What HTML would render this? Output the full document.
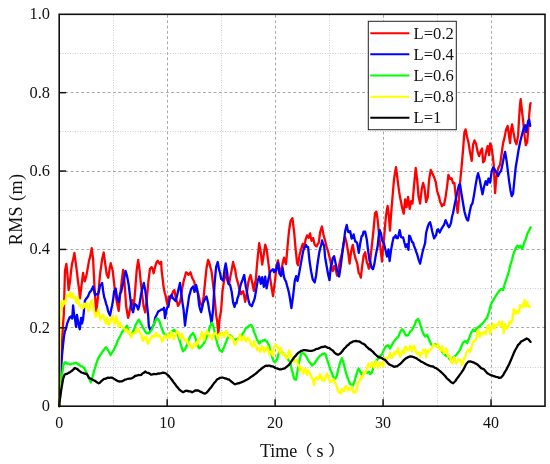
<!DOCTYPE html>
<html lang="en"><head><meta charset="utf-8"><title>RMS vs Time</title>
<style>
html,body{margin:0;padding:0;background:#fff;}
body{width:550px;height:464px;overflow:hidden;}
svg text{font-family:"Liberation Serif","Noto Serif CJK SC",serif;}
</style></head><body>
<svg width="550" height="464" viewBox="0 0 550 464" style="display:block">
<rect x="0" y="0" width="550" height="464" fill="#ffffff"/>
<g fill="none" stroke="#cfcfcf" stroke-width="1" stroke-dasharray="1 1.5">
<line x1="113.50" y1="15.00" x2="113.50" y2="406.00"/>
<line x1="221.50" y1="15.00" x2="221.50" y2="406.00"/>
<line x1="329.50" y1="15.00" x2="329.50" y2="406.00"/>
<line x1="437.50" y1="15.00" x2="437.50" y2="406.00"/>
<line x1="60.00" y1="367.50" x2="545.00" y2="367.50"/>
<line x1="60.00" y1="288.50" x2="545.00" y2="288.50"/>
<line x1="60.00" y1="210.50" x2="545.00" y2="210.50"/>
<line x1="60.00" y1="131.50" x2="545.00" y2="131.50"/>
<line x1="60.00" y1="53.50" x2="545.00" y2="53.50"/>
</g>
<g fill="none" stroke="#a9a9a9" stroke-width="1" stroke-dasharray="2.8 2.5">
<line x1="167.50" y1="15.00" x2="167.50" y2="406.00"/>
<line x1="275.50" y1="15.00" x2="275.50" y2="406.00"/>
<line x1="383.50" y1="15.00" x2="383.50" y2="406.00"/>
<line x1="491.50" y1="15.00" x2="491.50" y2="406.00"/>
<line x1="60.00" y1="327.50" x2="545.00" y2="327.50"/>
<line x1="60.00" y1="249.50" x2="545.00" y2="249.50"/>
<line x1="60.00" y1="171.50" x2="545.00" y2="171.50"/>
<line x1="60.00" y1="92.50" x2="545.00" y2="92.50"/>
</g>
<g fill="none" stroke-width="2.3" stroke-linejoin="round" stroke-linecap="round">
<path stroke="#ff0000" d="M59.2 406.2 L60.0 390.3 L61.0 365.5 L62.2 339.4 L63.0 325.0 L63.8 314.3 L65.0 270.8 L66.4 263.8 L67.6 276.1 L68.6 290.1 L70.0 281.5 L71.0 271.9 L72.0 263.8 L73.2 259.3 L74.4 253.0 L76.0 264.8 L77.0 272.4 L78.0 281.5 L79.0 288.5 L80.0 298.3 L81.6 284.7 L83.1 273.0 L84.7 281.4 L86.1 277.0 L87.1 271.7 L88.1 266.1 L89.1 260.1 L90.1 257.1 L91.7 248.1 L93.1 259.2 L94.5 286.9 L96.1 311.2 L97.1 305.2 L98.1 296.0 L99.1 285.2 L100.1 273.7 L101.1 267.0 L102.1 259.3 L103.7 252.5 L105.1 262.9 L106.7 274.4 L108.3 277.8 L109.5 269.4 L110.7 263.2 L111.7 267.0 L112.7 270.7 L113.7 279.7 L114.7 288.3 L115.7 295.7 L116.7 301.2 L117.7 306.1 L118.7 310.9 L120.1 295.4 L121.7 281.1 L123.1 270.0 L124.5 281.9 L126.1 305.8 L127.1 312.0 L128.1 317.9 L129.1 314.3 L130.1 307.9 L131.1 303.5 L132.1 300.2 L133.7 307.7 L135.1 291.3 L136.7 270.1 L138.2 260.0 L139.6 270.2 L140.6 280.7 L141.6 289.4 L142.6 298.4 L143.6 306.3 L145.2 312.4 L146.8 299.4 L148.4 281.3 L150.0 268.7 L151.6 267.1 L152.6 269.2 L153.6 273.3 L154.6 269.1 L155.6 265.1 L156.7 262.0 L157.8 260.8 L159.6 263.7 L161.2 261.8 L161.6 270.5 L162.6 278.5 L163.6 287.1 L164.6 292.2 L165.6 295.9 L166.6 301.3 L167.6 305.2 L169.0 296.3 L170.0 298.0 L171.0 298.1 L172.0 294.8 L173.0 291.5 L174.4 290.0 L176.0 299.3 L177.0 301.6 L178.0 305.9 L179.0 304.3 L180.0 302.1 L181.0 296.9 L182.0 289.0 L183.0 284.5 L184.0 279.6 L185.0 276.4 L186.0 272.3 L187.2 273.0 L188.5 274.7 L189.5 274.0 L190.5 272.2 L192.1 277.7 L193.1 279.5 L194.1 281.5 L195.1 285.7 L196.1 287.2 L197.1 291.2 L198.1 293.0 L199.1 297.4 L200.1 302.9 L201.1 304.3 L202.1 306.1 L203.7 296.4 L205.1 281.9 L206.5 268.3 L208.1 259.9 L209.1 262.1 L210.1 266.1 L211.7 272.5 L213.1 284.7 L214.5 296.9 L216.1 314.6 L217.3 322.1 L218.3 334.9 L219.5 319.2 L221.1 310.5 L222.5 291.0 L224.1 280.3 L225.7 272.5 L227.1 279.9 L228.1 282.7 L229.1 284.1 L230.1 277.7 L231.1 273.1 L232.1 267.6 L233.1 261.9 L234.1 266.4 L235.1 269.2 L236.1 276.0 L237.1 280.5 L238.1 283.2 L239.1 288.2 L240.1 290.7 L241.1 294.1 L242.1 292.4 L243.2 291.3 L244.2 296.4 L245.2 301.8 L246.2 296.6 L247.2 290.2 L248.2 283.0 L249.2 278.6 L250.6 275.0 L252.2 282.8 L253.8 290.8 L254.8 283.9 L255.8 280.0 L256.8 267.0 L257.8 256.7 L259.2 243.2 L260.8 252.5 L262.2 264.5 L263.8 254.5 L265.2 244.6 L266.6 249.0 L268.0 259.8 L269.0 267.7 L270.0 277.1 L271.6 287.7 L273.0 296.0 L274.0 288.2 L275.0 281.2 L276.6 265.2 L278.0 260.4 L279.4 268.1 L281.0 274.7 L282.6 263.2 L284.0 257.7 L285.0 261.6 L286.0 264.2 L287.4 248.2 L289.0 231.0 L290.6 220.8 L292.4 218.2 L294.1 231.7 L295.5 247.7 L297.1 263.3 L298.1 265.2 L299.5 255.1 L301.1 249.1 L302.7 243.8 L304.1 248.7 L305.5 239.9 L307.1 235.4 L308.7 237.9 L310.1 233.4 L311.5 240.9 L313.1 238.1 L314.7 244.8 L315.7 245.8 L316.7 246.4 L317.7 244.0 L318.7 242.9 L320.3 231.5 L321.9 226.5 L323.5 234.8 L325.1 240.6 L326.7 247.0 L327.7 250.0 L328.7 253.8 L329.7 258.1 L330.7 262.4 L331.7 268.2 L332.7 271.1 L334.1 266.1 L335.5 269.1 L337.1 275.7 L338.7 267.1 L340.1 260.8 L341.1 256.4 L342.1 252.7 L343.5 243.5 L345.1 236.9 L346.7 243.6 L348.2 252.5 L349.6 263.5 L351.2 251.1 L352.8 244.8 L354.2 253.4 L355.6 258.9 L357.2 263.2 L358.8 273.3 L359.8 274.0 L360.8 277.7 L362.2 265.7 L363.6 255.8 L365.2 252.2 L366.8 262.2 L367.8 264.6 L368.8 268.7 L370.2 261.2 L371.6 247.6 L372.6 238.5 L373.6 229.2 L375.0 213.2 L376.4 211.6 L377.6 219.4 L379.0 233.8 L380.4 247.4 L382.0 261.5 L383.2 246.4 L384.0 239.2 L385.0 226.7 L386.0 215.5 L387.6 205.9 L389.0 217.3 L390.0 230.6 L391.0 215.4 L392.4 198.3 L394.0 179.5 L395.0 172.8 L396.0 167.1 L397.0 175.0 L398.1 183.9 L399.1 191.4 L400.1 197.6 L401.1 202.3 L402.1 207.8 L403.7 213.6 L405.1 199.3 L406.5 207.2 L408.1 197.0 L409.7 208.9 L411.1 201.1 L412.5 203.6 L414.1 184.9 L415.7 168.0 L417.1 178.9 L418.5 196.3 L420.1 203.6 L421.7 189.4 L423.1 182.9 L424.5 188.2 L426.1 202.1 L427.7 197.6 L429.1 179.9 L430.7 170.0 L432.5 173.7 L434.1 177.2 L435.7 181.8 L437.1 190.8 L438.1 194.2 L439.1 197.0 L440.0 201.4 L441.0 203.9 L442.0 206.2 L443.0 204.5 L444.0 204.8 L445.6 196.9 L447.0 187.1 L448.4 175.0 L450.0 178.9 L451.6 178.3 L453.0 183.1 L454.4 183.0 L456.0 198.7 L457.6 212.8 L459.0 199.4 L460.0 183.0 L461.6 166.8 L463.0 150.3 L464.4 132.4 L465.6 129.4 L467.0 136.8 L468.5 142.7 L470.1 152.6 L471.7 160.8 L473.1 144.6 L474.5 140.4 L476.1 144.0 L477.7 152.1 L479.1 156.1 L480.7 151.1 L482.1 148.5 L483.1 162.4 L484.5 160.6 L486.1 152.1 L487.7 146.0 L489.1 155.1 L490.1 143.5 L491.3 145.5 L492.5 154.3 L493.7 164.2 L495.1 193.1 L496.1 180.2 L497.1 172.8 L498.5 167.6 L500.1 164.7 L501.7 153.2 L503.1 143.1 L504.5 137.9 L506.1 129.4 L507.7 126.0 L509.1 136.7 L510.1 143.2 L511.1 129.4 L512.1 124.3 L513.7 133.6 L515.1 141.1 L516.5 144.3 L518.1 135.9 L519.1 117.8 L520.1 104.0 L520.7 99.1 L521.7 108.4 L523.2 121.7 L524.6 136.1 L525.8 145.2 L527.2 142.1 L528.2 130.2 L529.2 114.8 L530.2 104.1 L530.6 103.1"/>
<path stroke="#0000ff" d="M59.2 406.2 L60.0 384.2 L61.0 369.2 L62.0 355.3 L63.0 345.3 L64.0 336.2 L65.0 330.9 L65.8 329.3 L67.1 323.7 L68.4 320.3 L69.6 317.5 L70.9 316.5 L72.2 318.5 L73.1 305.4 L74.1 314.8 L75.1 319.6 L76.0 326.8 L76.9 315.0 L77.9 320.4 L78.9 326.0 L79.8 329.2 L81.1 318.0 L82.0 323.5 L83.0 319.7 L84.0 309.8 L84.9 300.8 L86.2 298.7 L88.1 296.2 L89.6 292.4 L91.1 290.8 L92.1 288.9 L93.1 286.5 L94.1 290.7 L95.1 295.1 L96.6 294.1 L98.1 294.2 L99.1 290.4 L100.1 285.3 L101.1 284.8 L102.1 283.0 L103.1 290.7 L104.1 296.9 L105.1 299.8 L106.1 303.8 L107.1 306.6 L108.1 311.2 L109.1 313.6 L110.1 315.5 L111.1 309.9 L112.1 305.4 L113.1 299.8 L114.1 291.4 L115.7 288.6 L117.1 297.9 L118.7 302.0 L120.1 293.4 L121.1 292.1 L122.1 287.7 L123.1 283.5 L124.1 278.7 L125.5 270.8 L127.1 276.1 L128.7 285.0 L130.1 296.7 L131.5 308.2 L133.1 312.3 L134.7 304.0 L135.7 304.5 L136.7 305.5 L138.2 309.5 L139.2 306.0 L140.2 299.6 L141.2 293.5 L142.2 289.2 L143.8 282.9 L145.2 289.9 L146.8 302.3 L148.2 316.0 L148.8 325.8 L150.2 330.4 L151.7 328.5 L153.2 325.8 L154.2 323.8 L155.2 317.8 L156.7 314.8 L158.2 311.5 L160.0 310.4 L161.0 309.7 L162.0 309.3 L163.0 309.6 L164.0 307.7 L165.0 318.2 L166.4 310.5 L167.4 307.1 L168.4 306.8 L170.0 297.4 L171.6 294.8 L172.6 297.6 L173.6 299.0 L174.6 299.7 L175.6 301.1 L176.6 297.6 L177.6 293.3 L178.8 288.1 L180.0 282.9 L181.6 295.9 L182.6 303.6 L183.6 309.7 L185.0 325.7 L186.0 317.2 L187.0 310.3 L188.1 303.2 L189.1 296.2 L190.1 292.9 L191.1 289.0 L192.1 287.8 L193.1 286.4 L194.5 291.9 L196.1 284.8 L197.7 292.0 L199.1 305.0 L200.1 309.2 L201.1 312.2 L202.1 308.0 L203.1 303.1 L204.1 300.7 L205.1 298.9 L206.5 296.4 L208.1 303.0 L209.1 309.7 L210.1 314.4 L211.7 324.0 L213.1 309.0 L214.5 284.9 L216.1 267.0 L217.7 262.0 L219.1 269.9 L220.1 273.0 L221.1 278.8 L222.1 279.6 L223.1 280.7 L224.5 269.8 L225.7 263.4 L227.1 272.0 L228.5 283.8 L230.1 285.0 L231.7 291.8 L233.1 302.3 L234.5 307.0 L235.5 303.0 L236.5 303.3 L237.5 298.2 L238.5 295.8 L239.5 290.1 L240.5 285.4 L241.5 282.3 L242.6 279.5 L244.2 275.0 L245.8 286.4 L246.8 291.1 L247.8 296.7 L248.8 301.7 L249.8 304.5 L250.8 305.3 L251.8 306.3 L252.8 303.4 L253.8 301.0 L254.8 297.9 L255.8 292.1 L256.8 285.8 L257.8 280.4 L259.2 276.5 L260.8 283.8 L262.2 277.2 L263.8 286.9 L265.2 276.6 L266.6 288.3 L268.0 281.0 L269.0 276.8 L270.0 272.5 L271.0 270.8 L272.0 270.0 L273.0 269.3 L274.0 272.2 L275.0 269.8 L276.0 271.0 L277.0 266.1 L278.0 262.6 L279.4 273.3 L281.0 276.0 L282.6 267.7 L284.0 277.2 L285.0 279.7 L286.0 281.6 L287.0 285.5 L288.0 289.0 L289.0 293.0 L290.0 298.8 L291.4 308.1 L293.1 296.0 L294.7 281.3 L296.1 276.1 L297.5 281.0 L299.1 273.6 L300.7 264.6 L302.1 256.7 L303.1 251.5 L304.1 248.0 L305.1 246.9 L306.1 245.0 L307.1 246.9 L308.1 247.1 L309.5 261.0 L311.1 271.3 L312.7 279.3 L313.7 280.9 L314.7 282.4 L316.1 275.5 L317.1 267.2 L318.1 260.0 L319.1 253.4 L320.1 248.4 L321.1 245.6 L322.1 240.5 L323.1 243.8 L324.1 245.4 L325.1 257.2 L326.7 266.5 L328.1 274.4 L329.5 280.2 L330.7 267.5 L331.7 264.2 L332.7 258.1 L334.1 256.2 L335.5 262.8 L337.1 271.1 L338.1 272.7 L339.1 276.5 L340.7 266.4 L342.1 255.1 L343.5 244.9 L345.1 231.6 L346.7 224.9 L348.2 231.9 L349.2 232.3 L350.2 231.1 L351.6 238.5 L352.6 237.9 L353.6 234.3 L355.2 241.6 L356.2 241.6 L357.2 243.4 L358.8 252.9 L360.2 243.5 L361.6 236.2 L362.6 235.6 L363.6 231.6 L365.2 231.7 L366.8 239.5 L368.2 251.2 L369.6 261.1 L370.0 260.4 L371.6 267.9 L373.0 269.3 L374.4 263.9 L376.0 253.9 L377.6 246.6 L378.6 236.9 L379.6 230.0 L381.0 233.7 L382.4 241.2 L384.0 243.7 L385.6 250.5 L387.0 256.5 L388.4 249.4 L389.6 261.2 L391.0 250.5 L392.4 242.7 L393.6 237.3 L394.6 237.4 L395.6 235.3 L396.6 238.1 L397.7 238.2 L398.7 234.6 L399.7 230.1 L401.1 237.2 L402.1 237.5 L403.1 237.3 L404.4 242.5 L405.7 247.1 L407.1 244.2 L408.5 249.8 L409.1 235.7 L410.1 236.5 L411.1 239.3 L412.1 242.1 L413.1 242.6 L414.1 246.1 L415.1 248.5 L416.1 251.7 L417.1 254.1 L418.5 259.3 L420.1 263.7 L421.7 255.9 L423.1 249.8 L424.1 246.5 L425.1 243.1 L426.1 233.0 L427.1 229.1 L428.1 225.6 L429.1 223.3 L430.1 222.2 L431.1 226.0 L432.1 231.0 L433.1 234.8 L434.1 238.4 L435.1 236.7 L436.1 235.1 L437.1 230.2 L438.1 229.3 L439.7 232.5 L440.9 230.0 L442.0 227.9 L443.0 226.3 L444.0 225.0 L445.6 220.2 L447.0 223.2 L448.0 225.9 L449.0 227.2 L450.0 225.6 L451.0 222.9 L452.0 216.8 L453.0 213.3 L454.0 208.1 L455.0 202.9 L456.0 198.6 L457.0 193.2 L458.0 189.0 L459.0 185.1 L460.0 184.2 L461.6 194.5 L463.0 203.0 L464.4 211.3 L466.0 217.1 L467.0 219.6 L468.1 220.5 L469.7 211.9 L471.1 205.6 L472.5 203.2 L474.1 194.6 L475.7 184.5 L477.1 176.7 L478.1 173.2 L479.7 179.5 L481.1 187.2 L482.5 194.3 L484.1 186.5 L485.7 181.2 L487.1 184.9 L488.5 178.5 L490.1 182.7 L491.7 171.5 L493.1 167.5 L494.5 169.1 L496.1 172.1 L497.1 173.7 L498.1 176.1 L499.7 172.4 L501.1 170.7 L502.5 164.2 L504.1 155.9 L505.1 151.9 L506.5 160.2 L507.7 169.7 L509.1 181.2 L510.5 190.4 L511.7 196.1 L513.1 193.4 L514.5 179.2 L515.7 167.3 L517.1 159.2 L518.5 150.2 L519.5 145.2 L520.5 140.5 L522.1 134.2 L523.8 128.0 L525.2 125.2 L526.2 132.1 L527.2 126.3 L528.2 121.0 L529.2 119.7 L530.2 125.9"/>
<path stroke="#00ff00" d="M59.2 406.2 L60.6 391.2 L62.0 375.4 L63.4 365.3 L64.6 362.5 L65.8 362.4 L67.0 363.6 L68.0 363.5 L69.0 364.0 L70.0 364.3 L71.0 364.4 L72.0 363.6 L73.0 363.6 L74.0 363.5 L75.0 363.0 L76.0 362.7 L77.0 363.2 L78.0 364.5 L79.0 364.3 L80.0 365.6 L81.0 366.0 L82.0 366.3 L83.1 367.6 L84.1 367.6 L85.1 369.8 L86.1 371.9 L87.1 373.8 L88.1 375.8 L89.4 378.7 L90.7 382.5 L92.1 378.7 L93.1 374.8 L94.1 370.7 L95.1 368.0 L96.1 364.1 L97.1 361.4 L98.1 358.6 L99.1 356.7 L100.1 355.3 L101.1 354.0 L102.1 352.2 L103.1 350.8 L104.1 349.5 L105.1 348.1 L106.1 347.3 L107.1 348.9 L108.1 350.4 L109.4 352.7 L110.7 355.1 L111.9 352.7 L113.1 350.9 L114.1 349.4 L115.1 347.0 L116.1 344.9 L117.1 342.1 L118.1 340.1 L119.1 337.8 L120.1 336.3 L121.1 334.3 L122.1 331.9 L123.1 330.9 L124.1 328.6 L125.1 328.5 L126.1 326.7 L127.1 325.6 L128.1 329.9 L129.1 333.1 L130.1 334.0 L131.1 336.0 L132.1 334.0 L133.1 331.0 L134.1 329.3 L135.1 326.3 L136.1 324.0 L137.4 321.9 L138.8 319.6 L140.0 321.9 L141.2 324.0 L142.2 326.1 L143.2 328.1 L144.2 329.4 L145.2 331.5 L146.2 332.8 L147.2 333.4 L148.2 332.6 L149.2 333.3 L150.2 331.3 L151.2 330.4 L152.2 328.9 L153.2 326.0 L154.2 323.2 L155.2 321.6 L156.2 319.2 L157.2 318.4 L158.2 319.7 L159.2 320.6 L160.0 323.2 L161.0 326.3 L162.0 328.9 L163.0 331.9 L164.0 333.7 L165.0 334.5 L166.0 334.8 L167.0 335.0 L168.0 334.2 L169.0 333.8 L170.0 333.5 L171.0 331.9 L172.0 331.3 L173.0 330.9 L174.0 329.7 L175.0 331.0 L176.0 331.6 L177.0 332.0 L178.0 335.3 L179.0 338.4 L180.0 341.1 L181.0 345.5 L182.0 348.1 L183.0 351.3 L184.0 350.2 L185.0 349.5 L186.0 347.3 L187.0 344.8 L188.1 341.7 L189.1 338.9 L190.1 336.8 L191.1 334.8 L192.1 334.1 L193.1 333.0 L194.1 334.9 L195.1 337.3 L196.1 340.2 L197.1 344.0 L198.1 346.0 L199.1 348.2 L200.1 347.8 L201.1 346.8 L202.1 345.6 L203.1 344.5 L204.1 342.6 L205.1 341.0 L206.1 338.4 L207.1 335.4 L208.1 333.3 L209.1 329.4 L210.1 325.9 L211.1 324.6 L212.1 322.6 L213.1 325.8 L214.1 329.5 L215.7 336.7 L216.7 340.9 L217.7 345.3 L218.7 347.5 L219.7 350.2 L220.9 351.1 L222.1 351.8 L223.1 349.2 L224.1 346.9 L225.1 344.1 L226.1 342.3 L227.1 339.2 L228.1 337.0 L229.1 335.7 L230.1 335.3 L231.1 336.0 L232.1 336.7 L233.1 338.6 L234.1 339.6 L235.1 339.6 L236.1 339.2 L237.1 339.3 L238.1 338.5 L239.1 337.4 L240.1 336.9 L241.1 335.7 L242.1 334.7 L243.2 332.9 L244.2 331.6 L245.2 329.3 L246.2 327.6 L247.2 327.6 L248.2 326.6 L249.2 325.6 L250.2 325.2 L251.2 324.9 L252.2 326.6 L253.2 328.9 L254.2 332.5 L255.2 334.6 L256.2 337.4 L257.2 339.9 L258.2 341.2 L259.2 343.5 L260.2 342.2 L261.2 341.4 L262.2 341.0 L263.2 340.3 L264.2 340.4 L265.0 339.7 L266.0 341.0 L267.0 341.6 L268.0 343.9 L269.0 345.0 L270.0 349.1 L271.0 352.7 L272.0 356.0 L273.0 359.7 L274.0 361.5 L275.0 362.5 L276.0 360.7 L277.0 359.4 L278.0 355.8 L279.0 352.7 L280.0 352.3 L281.0 350.8 L282.5 352.6 L284.0 354.0 L285.5 356.0 L287.0 357.5 L288.5 360.2 L290.0 361.8 L291.0 366.4 L292.0 370.5 L293.0 373.9 L294.0 378.4 L295.0 379.5 L296.0 379.7 L297.4 371.8 L299.0 362.4 L300.0 358.4 L301.0 353.7 L302.0 353.2 L303.0 353.4 L304.0 353.6 L305.0 354.7 L306.0 356.2 L307.0 357.8 L308.0 360.0 L309.0 361.6 L310.5 363.2 L312.0 365.5 L313.5 364.0 L315.0 363.0 L316.0 360.8 L317.0 359.5 L318.0 358.1 L319.0 357.0 L320.0 355.6 L321.0 355.2 L322.2 354.0 L323.4 353.8 L324.4 353.3 L325.4 354.1 L327.0 359.3 L328.0 362.1 L329.0 365.5 L330.0 368.5 L331.0 371.2 L332.0 373.1 L333.0 376.4 L334.0 377.5 L335.0 378.9 L336.6 376.8 L338.0 370.5 L339.0 366.7 L340.0 362.7 L341.0 360.2 L342.0 358.3 L343.0 361.1 L344.0 364.8 L345.0 369.1 L346.0 372.6 L347.0 376.3 L348.0 378.5 L349.0 381.5 L350.0 383.7 L351.3 384.6 L352.6 386.2 L353.6 383.5 L354.6 381.0 L355.6 377.3 L356.6 373.9 L357.6 371.1 L358.6 368.5 L360.0 371.0 L361.0 373.2 L362.0 374.8 L363.0 373.5 L364.0 372.0 L365.0 372.4 L366.0 372.7 L367.5 372.6 L369.0 371.8 L370.0 374.0 L371.0 373.4 L372.0 372.2 L373.0 368.9 L374.0 365.4 L375.0 363.2 L376.0 360.8 L377.0 360.1 L378.0 358.4 L379.0 357.4 L380.0 355.7 L381.0 355.2 L382.0 354.2 L383.0 351.9 L384.0 349.3 L385.0 347.9 L386.0 346.1 L387.0 346.0 L388.0 345.3 L389.0 346.2 L390.0 348.5 L391.0 346.3 L392.0 344.8 L393.0 342.9 L394.0 341.4 L395.0 340.2 L396.0 339.1 L397.0 337.8 L398.1 337.1 L399.1 334.9 L400.1 332.2 L401.1 330.5 L402.1 329.3 L403.1 330.3 L404.1 331.6 L405.1 334.3 L406.1 335.6 L407.1 335.1 L408.1 335.3 L409.1 333.5 L410.1 331.6 L411.1 330.9 L412.1 329.7 L413.1 328.0 L414.1 325.9 L415.1 323.9 L416.1 320.5 L417.1 319.9 L418.1 318.8 L419.7 322.7 L421.1 327.3 L422.1 330.5 L423.1 333.1 L424.1 334.8 L425.1 336.4 L426.1 336.0 L427.1 334.9 L428.1 337.3 L429.1 339.7 L430.1 341.9 L431.1 344.3 L432.1 345.0 L433.1 345.1 L434.1 344.7 L435.1 344.2 L436.1 344.6 L437.1 345.6 L438.1 346.1 L439.1 347.4 L440.1 348.9 L441.1 349.8 L442.1 351.9 L443.1 352.7 L444.1 354.0 L445.1 355.0 L446.1 356.1 L447.1 356.1 L448.1 356.6 L449.1 358.6 L450.1 359.5 L451.1 360.5 L452.1 359.6 L453.2 357.6 L454.2 356.7 L455.2 355.8 L456.2 355.1 L457.2 353.8 L458.2 352.2 L459.2 351.2 L460.2 349.5 L461.2 347.0 L462.2 344.3 L463.2 342.4 L464.2 341.8 L465.2 341.1 L466.2 341.6 L467.2 343.2 L468.2 340.1 L469.2 338.2 L470.2 335.4 L471.2 332.4 L472.2 331.2 L473.2 329.5 L474.2 330.8 L475.2 330.8 L476.2 329.1 L477.2 328.2 L478.2 327.1 L479.2 326.3 L479.7 326.3 L480.9 324.5 L482.1 324.1 L483.1 322.7 L484.1 321.9 L485.1 320.1 L486.1 318.8 L487.1 317.9 L488.1 314.6 L489.1 311.6 L490.1 307.3 L491.1 304.1 L492.1 301.8 L493.1 300.4 L494.1 298.6 L495.1 297.0 L496.1 295.3 L497.1 293.8 L498.1 292.6 L499.1 291.1 L500.1 289.9 L501.1 289.0 L502.1 289.6 L503.1 290.1 L504.5 284.8 L506.1 280.0 L507.1 276.8 L508.1 274.0 L509.1 270.3 L510.1 265.7 L511.1 262.5 L512.1 259.5 L513.1 255.1 L514.1 252.3 L515.7 248.3 L516.7 246.6 L517.7 245.7 L519.1 247.5 L520.5 245.7 L522.1 249.0 L523.8 244.1 L524.8 241.1 L525.8 239.4 L527.2 234.1 L528.2 232.0 L529.2 230.4 L530.6 227.3"/>
<path stroke="#ffff00" d="M59.2 406.2 L59.6 355.8 L59.8 312.6 L60.7 309.2 L61.4 301.3 L62.6 306.5 L63.9 301.1 L65.2 304.1 L66.5 295.6 L67.7 294.7 L69.0 296.6 L70.3 292.4 L71.5 297.7 L72.8 293.4 L74.1 298.7 L75.4 297.1 L76.6 303.0 L77.9 297.5 L79.2 305.7 L80.5 304.9 L81.7 308.5 L83.0 308.1 L84.3 303.7 L85.5 307.0 L86.8 302.3 L88.1 311.4 L89.4 309.5 L90.6 302.0 L91.9 300.1 L93.2 308.3 L94.5 312.2 L95.7 317.0 L97.0 314.1 L98.3 309.3 L99.5 316.5 L100.8 319.9 L102.1 315.7 L103.4 314.6 L104.6 319.9 L105.9 323.6 L107.2 317.8 L108.5 324.8 L109.7 323.4 L111.0 319.2 L112.3 315.7 L113.5 321.0 L114.8 324.3 L116.1 316.0 L117.4 320.7 L118.6 327.0 L119.9 322.4 L121.2 326.3 L122.5 326.7 L123.7 328.3 L124.9 329.1 L125.1 330.8 L126.1 331.2 L127.1 329.7 L128.1 333.2 L129.1 331.3 L130.1 333.4 L131.1 337.5 L132.1 334.7 L133.1 333.3 L134.1 333.0 L135.1 333.1 L136.1 332.1 L137.1 328.7 L138.2 329.0 L139.2 331.8 L140.2 332.9 L141.2 334.3 L142.2 339.6 L143.2 340.9 L144.2 337.4 L145.2 338.5 L146.2 336.5 L147.2 342.6 L148.2 343.8 L149.2 340.9 L150.2 338.8 L151.2 338.3 L152.2 335.9 L153.2 336.5 L154.2 337.0 L155.2 334.2 L156.2 333.0 L157.2 336.5 L158.2 335.8 L159.2 335.3 L160.2 336.8 L161.1 338.1 L162.0 341.7 L163.0 340.5 L164.0 336.7 L165.0 335.4 L166.0 337.4 L167.0 338.5 L168.0 334.2 L169.0 337.4 L170.0 337.8 L171.0 331.6 L172.0 333.1 L173.0 336.4 L174.0 339.2 L175.0 335.4 L176.0 334.7 L177.0 331.1 L178.0 331.7 L179.0 333.8 L180.0 338.3 L181.0 337.4 L182.0 333.9 L183.0 337.5 L184.0 338.4 L185.0 341.1 L186.0 339.9 L187.0 339.5 L188.1 343.7 L189.1 344.6 L190.1 343.3 L191.1 347.9 L192.1 348.3 L193.1 347.4 L194.1 344.2 L195.1 343.1 L196.1 346.2 L197.1 341.7 L198.1 343.2 L199.1 340.9 L200.1 338.7 L201.1 334.6 L202.1 331.8 L203.1 337.9 L204.1 340.3 L205.1 334.0 L206.1 334.0 L207.1 330.9 L208.1 333.3 L209.1 335.9 L210.1 335.2 L211.1 337.9 L212.1 339.3 L213.1 334.4 L214.1 333.9 L215.1 333.1 L216.1 333.6 L217.1 336.7 L218.1 339.2 L219.1 334.5 L220.1 333.1 L221.1 335.5 L222.1 332.8 L223.1 334.2 L224.1 337.1 L225.1 332.6 L226.1 330.7 L227.1 332.7 L228.1 335.5 L229.1 335.7 L230.1 337.6 L231.1 336.4 L232.1 338.7 L233.1 338.2 L234.1 343.1 L235.1 344.8 L236.1 342.9 L237.1 340.7 L238.1 339.9 L239.1 336.1 L240.1 334.2 L241.1 340.2 L242.1 340.4 L243.2 337.4 L244.2 336.5 L245.2 340.6 L246.2 341.5 L247.2 338.5 L248.2 337.7 L249.2 339.7 L250.2 341.9 L251.2 344.7 L252.2 345.9 L253.2 346.5 L254.2 341.0 L255.2 344.6 L256.2 346.3 L257.2 349.9 L258.2 347.8 L259.2 349.0 L260.2 351.8 L261.2 349.2 L262.2 346.0 L263.2 347.3 L264.2 352.2 L265.0 348.7 L266.0 349.8 L267.0 347.3 L268.0 347.3 L269.0 354.5 L270.0 352.2 L271.0 351.3 L272.0 353.6 L273.0 355.7 L274.0 347.8 L275.0 344.9 L276.0 344.6 L277.0 346.5 L278.0 347.3 L279.0 351.4 L280.0 352.9 L281.0 347.8 L282.0 353.4 L283.0 354.8 L284.0 353.6 L285.0 355.3 L286.0 358.0 L287.0 358.3 L288.0 356.1 L289.0 350.3 L290.0 352.0 L291.0 356.3 L292.0 356.9 L293.0 359.2 L294.0 361.7 L295.0 359.8 L296.0 361.4 L297.0 360.0 L298.0 365.3 L299.0 365.3 L300.0 370.3 L301.0 366.9 L302.0 369.4 L303.0 373.5 L304.0 372.4 L305.0 368.7 L306.0 369.6 L307.0 375.0 L308.0 370.7 L309.0 371.5 L310.0 373.9 L311.0 375.3 L312.0 378.4 L313.0 380.6 L314.0 385.2 L315.0 378.5 L316.0 378.1 L317.0 377.2 L318.0 379.5 L319.0 378.4 L320.0 374.0 L321.0 376.1 L322.0 380.3 L323.0 377.9 L324.0 380.8 L325.0 379.5 L326.0 375.5 L327.0 373.4 L328.0 376.6 L329.0 377.8 L330.0 382.2 L331.0 381.4 L332.0 380.9 L333.0 379.3 L334.0 379.3 L335.0 383.7 L336.0 384.0 L337.0 386.6 L338.0 391.4 L339.0 392.3 L340.0 391.5 L341.0 393.6 L342.0 389.0 L343.0 390.3 L344.0 391.2 L345.0 386.7 L346.0 386.1 L347.0 387.0 L348.0 390.3 L349.0 388.4 L350.0 389.5 L351.0 389.6 L352.0 386.5 L353.0 391.7 L354.0 392.8 L355.0 391.9 L356.0 392.0 L357.0 388.7 L358.0 382.0 L359.0 382.1 L360.0 379.9 L361.0 376.5 L362.0 378.4 L363.0 375.7 L364.0 371.8 L365.0 373.2 L366.0 371.3 L367.0 368.6 L368.0 364.5 L369.0 363.5 L370.0 367.0 L371.0 365.6 L372.0 362.3 L373.0 366.3 L374.0 367.5 L375.0 363.3 L376.0 361.2 L377.0 363.6 L378.0 368.1 L379.0 365.1 L380.0 362.9 L381.0 364.6 L382.0 362.6 L383.0 366.8 L384.4 358.1 L386.0 357.5 L387.0 359.0 L388.0 357.6 L389.0 356.7 L390.0 352.3 L391.0 357.2 L392.0 357.9 L393.0 356.0 L394.0 352.6 L395.0 354.5 L396.0 351.7 L397.0 352.7 L398.1 348.2 L399.1 354.2 L400.1 356.6 L401.1 354.4 L402.1 351.6 L403.1 349.9 L404.1 353.5 L405.1 346.6 L406.1 346.9 L407.1 349.9 L408.1 349.7 L409.1 350.1 L410.1 345.9 L411.1 347.1 L412.1 351.5 L413.1 347.7 L414.1 345.7 L415.1 349.0 L416.1 352.2 L417.1 353.9 L418.1 353.4 L419.1 352.5 L420.1 356.8 L421.1 353.1 L422.1 353.5 L423.1 349.7 L424.1 350.3 L425.1 349.6 L426.1 357.4 L427.1 351.0 L428.1 352.4 L429.1 349.9 L430.1 350.1 L431.1 349.2 L432.1 348.2 L433.1 344.6 L434.1 344.6 L435.1 345.6 L436.1 346.5 L437.1 346.4 L438.1 343.8 L439.1 349.1 L440.1 348.6 L441.1 350.7 L442.1 346.2 L443.1 350.2 L444.1 353.3 L445.1 351.4 L446.1 348.4 L447.1 350.4 L448.1 356.9 L449.1 356.2 L450.1 357.1 L451.1 361.8 L452.1 363.2 L453.2 359.1 L454.2 357.1 L455.2 360.6 L456.2 363.6 L457.2 361.6 L458.2 359.2 L459.2 359.2 L460.2 360.3 L461.2 361.5 L462.2 365.1 L463.2 361.7 L464.2 358.1 L465.2 357.3 L466.2 352.6 L467.2 351.5 L468.2 349.7 L469.2 351.0 L470.2 351.8 L471.2 347.9 L472.2 344.8 L473.2 341.6 L474.2 340.9 L475.2 341.0 L476.2 338.5 L477.2 332.9 L478.2 330.0 L479.7 337.1 L481.1 332.7 L482.5 334.2 L484.1 331.6 L485.7 334.3 L487.1 328.9 L488.5 324.6 L490.1 333.5 L491.7 327.6 L493.1 323.7 L494.5 328.9 L496.1 324.8 L497.7 324.9 L499.1 321.6 L500.7 326.7 L502.1 321.5 L503.7 333.0 L505.1 324.0 L506.5 328.7 L508.1 326.8 L509.7 321.5 L511.1 323.3 L512.5 319.4 L513.7 309.2 L515.1 313.8 L516.1 310.5 L517.1 312.4 L518.5 313.3 L520.1 304.9 L521.7 307.9 L523.2 305.9 L524.6 299.9 L525.8 306.7 L527.2 302.0 L528.6 306.6 L530.2 306.6"/>
<path stroke="#000000" d="M59.2 406.2 L59.4 403.2 L61.0 391.3 L63.0 379.2 L64.6 374.7 L65.8 374.0 L67.0 373.9 L68.5 372.9 L70.0 372.2 L71.3 371.2 L72.6 370.3 L73.8 369.0 L75.0 368.0 L76.2 368.7 L77.4 369.1 L78.7 370.4 L80.0 371.4 L81.5 372.5 L83.1 372.9 L84.9 373.7 L86.7 374.0 L87.9 375.9 L89.1 378.2 L90.6 378.6 L92.1 379.4 L93.6 380.2 L95.1 380.9 L96.9 382.2 L98.7 383.3 L99.9 382.7 L101.1 381.3 L102.6 380.1 L104.1 378.9 L105.4 378.8 L106.8 378.1 L108.1 377.7 L109.4 377.8 L110.8 377.6 L112.1 377.7 L113.6 378.6 L115.1 379.4 L116.4 380.2 L117.8 381.1 L119.1 381.5 L120.6 381.4 L122.1 381.3 L123.6 380.5 L125.1 379.6 L126.5 379.3 L127.8 378.8 L129.1 378.7 L130.6 378.6 L132.1 378.1 L133.6 377.2 L135.1 376.0 L136.6 375.7 L138.2 375.0 L139.7 375.1 L141.2 374.9 L142.5 373.5 L143.8 372.8 L145.2 371.5 L146.7 372.6 L148.2 372.9 L149.7 373.6 L151.2 374.7 L152.5 374.4 L153.8 374.0 L155.2 374.1 L156.5 374.1 L157.9 373.5 L159.2 373.6 L160.0 373.4 L161.5 373.1 L163.0 372.7 L164.5 372.9 L166.0 373.5 L167.5 374.8 L169.0 376.2 L170.5 378.1 L172.0 380.0 L173.5 382.2 L175.0 384.0 L176.5 386.3 L178.0 387.9 L179.5 389.8 L181.0 390.9 L183.0 392.2 L184.5 391.4 L186.0 390.7 L187.6 391.0 L189.1 391.3 L190.6 391.4 L192.1 392.3 L193.6 391.5 L195.1 390.5 L196.4 390.5 L197.7 390.3 L198.9 390.8 L200.1 391.7 L201.6 392.2 L203.1 393.1 L205.1 393.6 L206.6 392.6 L208.1 391.0 L209.6 389.0 L211.1 387.4 L212.6 385.1 L214.1 383.1 L215.6 381.4 L217.1 379.4 L218.6 378.8 L220.1 377.8 L221.6 377.6 L223.1 377.7 L224.6 378.3 L226.1 378.5 L227.6 379.3 L229.1 379.5 L230.6 381.0 L232.1 382.2 L233.6 383.4 L235.1 384.3 L236.6 383.7 L238.1 383.3 L239.6 383.0 L241.1 382.4 L242.7 381.7 L244.2 381.1 L245.7 380.3 L247.2 379.5 L248.7 378.7 L250.2 377.5 L251.7 376.6 L253.2 375.5 L254.7 374.4 L256.2 373.3 L257.7 371.9 L259.2 370.5 L260.7 369.4 L262.2 368.0 L264.2 366.7 L265.0 366.0 L266.3 365.7 L267.7 365.9 L269.0 365.5 L270.3 365.9 L271.7 366.3 L273.0 366.4 L274.3 367.2 L275.7 368.2 L277.0 368.4 L278.3 368.8 L279.7 369.3 L281.0 369.4 L282.3 369.0 L283.7 368.6 L285.0 368.2 L286.3 367.0 L287.7 365.9 L289.0 364.8 L290.3 363.1 L291.7 360.8 L293.0 359.0 L294.3 357.1 L295.7 355.8 L297.0 354.0 L298.3 352.8 L299.7 352.0 L301.0 350.8 L302.3 350.6 L303.7 350.2 L305.0 350.1 L306.3 350.4 L307.7 350.5 L309.0 350.9 L310.3 350.8 L311.7 350.9 L313.0 350.5 L314.3 350.2 L315.7 349.3 L317.0 348.8 L318.3 348.6 L319.7 347.9 L321.0 347.2 L322.3 347.0 L323.7 346.8 L325.0 346.4 L326.3 347.0 L327.7 347.8 L329.0 347.8 L330.3 348.9 L331.7 349.9 L333.0 350.8 L334.5 352.7 L336.0 353.9 L338.0 354.8 L339.5 354.0 L341.0 352.8 L342.5 351.0 L344.0 348.8 L345.5 347.5 L347.0 345.8 L348.5 344.7 L350.0 343.0 L351.5 342.4 L353.0 341.5 L354.5 341.1 L356.0 340.9 L357.5 341.3 L359.0 341.4 L360.5 342.1 L362.0 343.2 L363.5 343.9 L365.0 344.8 L366.5 346.7 L368.0 347.9 L369.4 349.4 L370.0 349.1 L371.5 350.6 L373.0 351.8 L374.5 353.7 L376.0 355.0 L377.5 356.3 L379.0 357.3 L380.5 357.5 L382.0 358.3 L383.5 359.3 L385.0 359.9 L386.5 361.5 L388.0 363.3 L389.5 364.5 L391.0 365.3 L392.5 365.9 L394.0 366.9 L395.5 366.4 L397.0 366.3 L398.6 365.1 L400.1 364.0 L401.6 362.6 L403.1 360.9 L404.6 359.4 L406.1 358.3 L407.6 357.4 L409.1 356.7 L410.6 356.5 L412.1 356.7 L413.6 357.1 L415.1 357.7 L416.6 358.4 L418.1 359.6 L419.6 360.4 L421.1 361.7 L422.6 362.1 L424.1 363.1 L425.6 364.0 L427.1 364.7 L428.6 365.4 L430.1 365.9 L431.6 366.3 L433.1 366.5 L434.6 367.6 L436.1 368.1 L437.6 369.2 L439.1 370.4 L440.6 371.6 L442.1 373.0 L443.6 374.5 L445.1 376.0 L446.6 378.0 L448.1 379.3 L449.6 380.7 L451.1 382.2 L453.2 383.3 L455.2 381.3 L456.7 378.9 L458.2 377.1 L459.7 374.9 L461.2 372.9 L462.7 370.7 L464.2 368.1 L466.2 364.1 L468.2 361.6 L470.2 361.4 L471.7 361.8 L473.2 362.3 L474.7 363.1 L476.2 363.8 L477.7 364.8 L479.2 366.1 L481.1 368.1 L482.6 368.7 L484.1 369.4 L485.6 371.3 L487.1 373.0 L488.6 373.9 L490.1 374.9 L491.6 375.3 L493.1 375.9 L494.6 376.3 L496.1 376.8 L497.6 377.1 L499.1 377.9 L501.1 377.5 L503.1 375.3 L504.6 372.4 L506.1 370.2 L507.6 367.1 L509.1 364.3 L510.6 360.7 L512.1 357.2 L513.6 353.6 L515.1 350.3 L516.6 347.7 L518.1 344.9 L519.6 343.6 L521.1 341.5 L522.7 340.7 L524.2 339.9 L525.4 339.4 L526.6 338.5 L528.6 339.5 L530.6 341.9"/>
</g>
<rect x="368.3" y="21.3" width="88" height="108.4" fill="#ffffff" stroke="#222" stroke-width="1"/>
<line x1="370.3" y1="33.20" x2="409.4" y2="33.20" stroke="#ff0000" stroke-width="2"/>
<text x="413.6" y="38.80" font-size="16.6" fill="#111">L=0.2</text>
<line x1="370.3" y1="54.35" x2="409.4" y2="54.35" stroke="#0000ff" stroke-width="2"/>
<text x="413.6" y="59.95" font-size="16.6" fill="#111">L=0.4</text>
<line x1="370.3" y1="75.50" x2="409.4" y2="75.50" stroke="#00ff00" stroke-width="2"/>
<text x="413.6" y="81.10" font-size="16.6" fill="#111">L=0.6</text>
<line x1="370.3" y1="96.65" x2="409.4" y2="96.65" stroke="#ffff00" stroke-width="2"/>
<text x="413.6" y="102.25" font-size="16.6" fill="#111">L=0.8</text>
<line x1="370.3" y1="117.80" x2="409.4" y2="117.80" stroke="#000000" stroke-width="2"/>
<text x="413.6" y="123.40" font-size="16.6" fill="#111">L=1</text>
<rect x="59.20" y="14.30" width="485.80" height="391.90" fill="none" stroke="#111" stroke-width="1.6"/>
<g stroke="#111" stroke-width="1.5">
<line x1="167.16" y1="406.20" x2="167.16" y2="399.20"/>
<line x1="275.11" y1="406.20" x2="275.11" y2="399.20"/>
<line x1="383.07" y1="406.20" x2="383.07" y2="399.20"/>
<line x1="491.02" y1="406.20" x2="491.02" y2="399.20"/>
<line x1="59.20" y1="327.82" x2="66.20" y2="327.82"/>
<line x1="59.20" y1="249.44" x2="66.20" y2="249.44"/>
<line x1="59.20" y1="171.06" x2="66.20" y2="171.06"/>
<line x1="59.20" y1="92.68" x2="66.20" y2="92.68"/>
</g>
<g font-size="16" fill="#111">
<text x="59.20" y="427.6" text-anchor="middle">0</text>
<text x="167.16" y="427.6" text-anchor="middle">10</text>
<text x="275.11" y="427.6" text-anchor="middle">20</text>
<text x="383.07" y="427.6" text-anchor="middle">30</text>
<text x="491.02" y="427.6" text-anchor="middle">40</text>
<text x="50.0" y="411.10" text-anchor="end" font-size="16.4">0</text>
<text x="50.0" y="332.72" text-anchor="end" font-size="16.4">0.2</text>
<text x="50.0" y="254.34" text-anchor="end" font-size="16.4">0.4</text>
<text x="50.0" y="175.96" text-anchor="end" font-size="16.4">0.6</text>
<text x="50.0" y="97.58" text-anchor="end" font-size="16.4">0.8</text>
<text x="50.0" y="19.20" text-anchor="end" font-size="16.4">1.0</text>
</g>
<g font-size="18" fill="#111">
<text x="260" y="457.2">Time</text>
<text x="297.2" y="455.6" font-size="15" stroke="#111" stroke-width="0.3" style="font-family:'Liberation Serif','Noto Serif CJK SC',serif">（</text>
<text x="316.6" y="457.2">s</text>
<text x="328.6" y="455.6" font-size="15" stroke="#111" stroke-width="0.3" style="font-family:'Liberation Serif','Noto Serif CJK SC',serif">）</text>
<text transform="translate(21.5 245.3) rotate(-90)" letter-spacing="0.45">RMS (m)</text>
</g>
</svg>
</body></html>
